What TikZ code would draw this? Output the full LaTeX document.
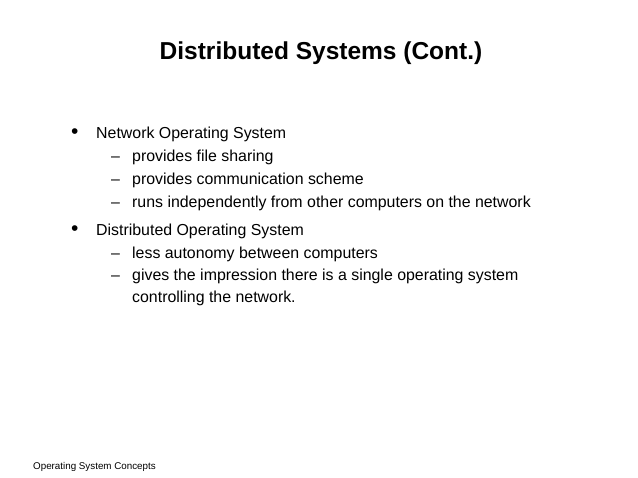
\documentclass[tikz,border=0pt]{standalone}
\usepackage{fontspec}
\setmainfont{Liberation Sans}
\begin{document}
\begin{tikzpicture}[x=1pt,y=-1pt,
  body/.style={anchor=base west,inner sep=0pt,font=\fontsize{15.9}{19}\selectfont},
  bmark/.style={anchor=base west,inner sep=0pt,font=\fontsize{15.9}{19}\selectfont}]
\useasboundingbox (0,0) rectangle (638,478);
\node[inner sep=0pt,font=\fontsize{24.5}{28}\bfseries] (title) at (321,53) {Distributed Systems (Cont.)};
\node[bmark,font=\fontsize{21}{21}\selectfont] (b1) at (71,139) {•};
\node[body] (t1) at (96,139) {Network Operating System};
\node[bmark] (d1) at (111,162) {–};
\node[body] (s1) at (132,162) {provides file sharing};
\node[bmark] (d2) at (111,185) {–};
\node[body] (s2) at (132,185) {provides communication scheme};
\node[bmark] (d3) at (111,208) {–};
\node[body] (s3) at (132,208) {runs independently from other computers on the network};
\node[bmark,font=\fontsize{21}{21}\selectfont] (b2) at (71,236) {•};
\node[body] (t2) at (96,236) {Distributed Operating System};
\node[bmark] (d4) at (111,259) {–};
\node[body] (s4) at (132,259) {less autonomy between computers};
\node[bmark] (d5) at (111,281) {–};
\node[body] (s5) at (132,281) {gives the impression there is a single operating system};
\node[body] (s6) at (132,303) {controlling the network.};
\node[anchor=base west,inner sep=0pt,font=\fontsize{9.8}{11}\selectfont] (foot) at (33,470) {Operating System Concepts};
\end{tikzpicture}
\end{document}
